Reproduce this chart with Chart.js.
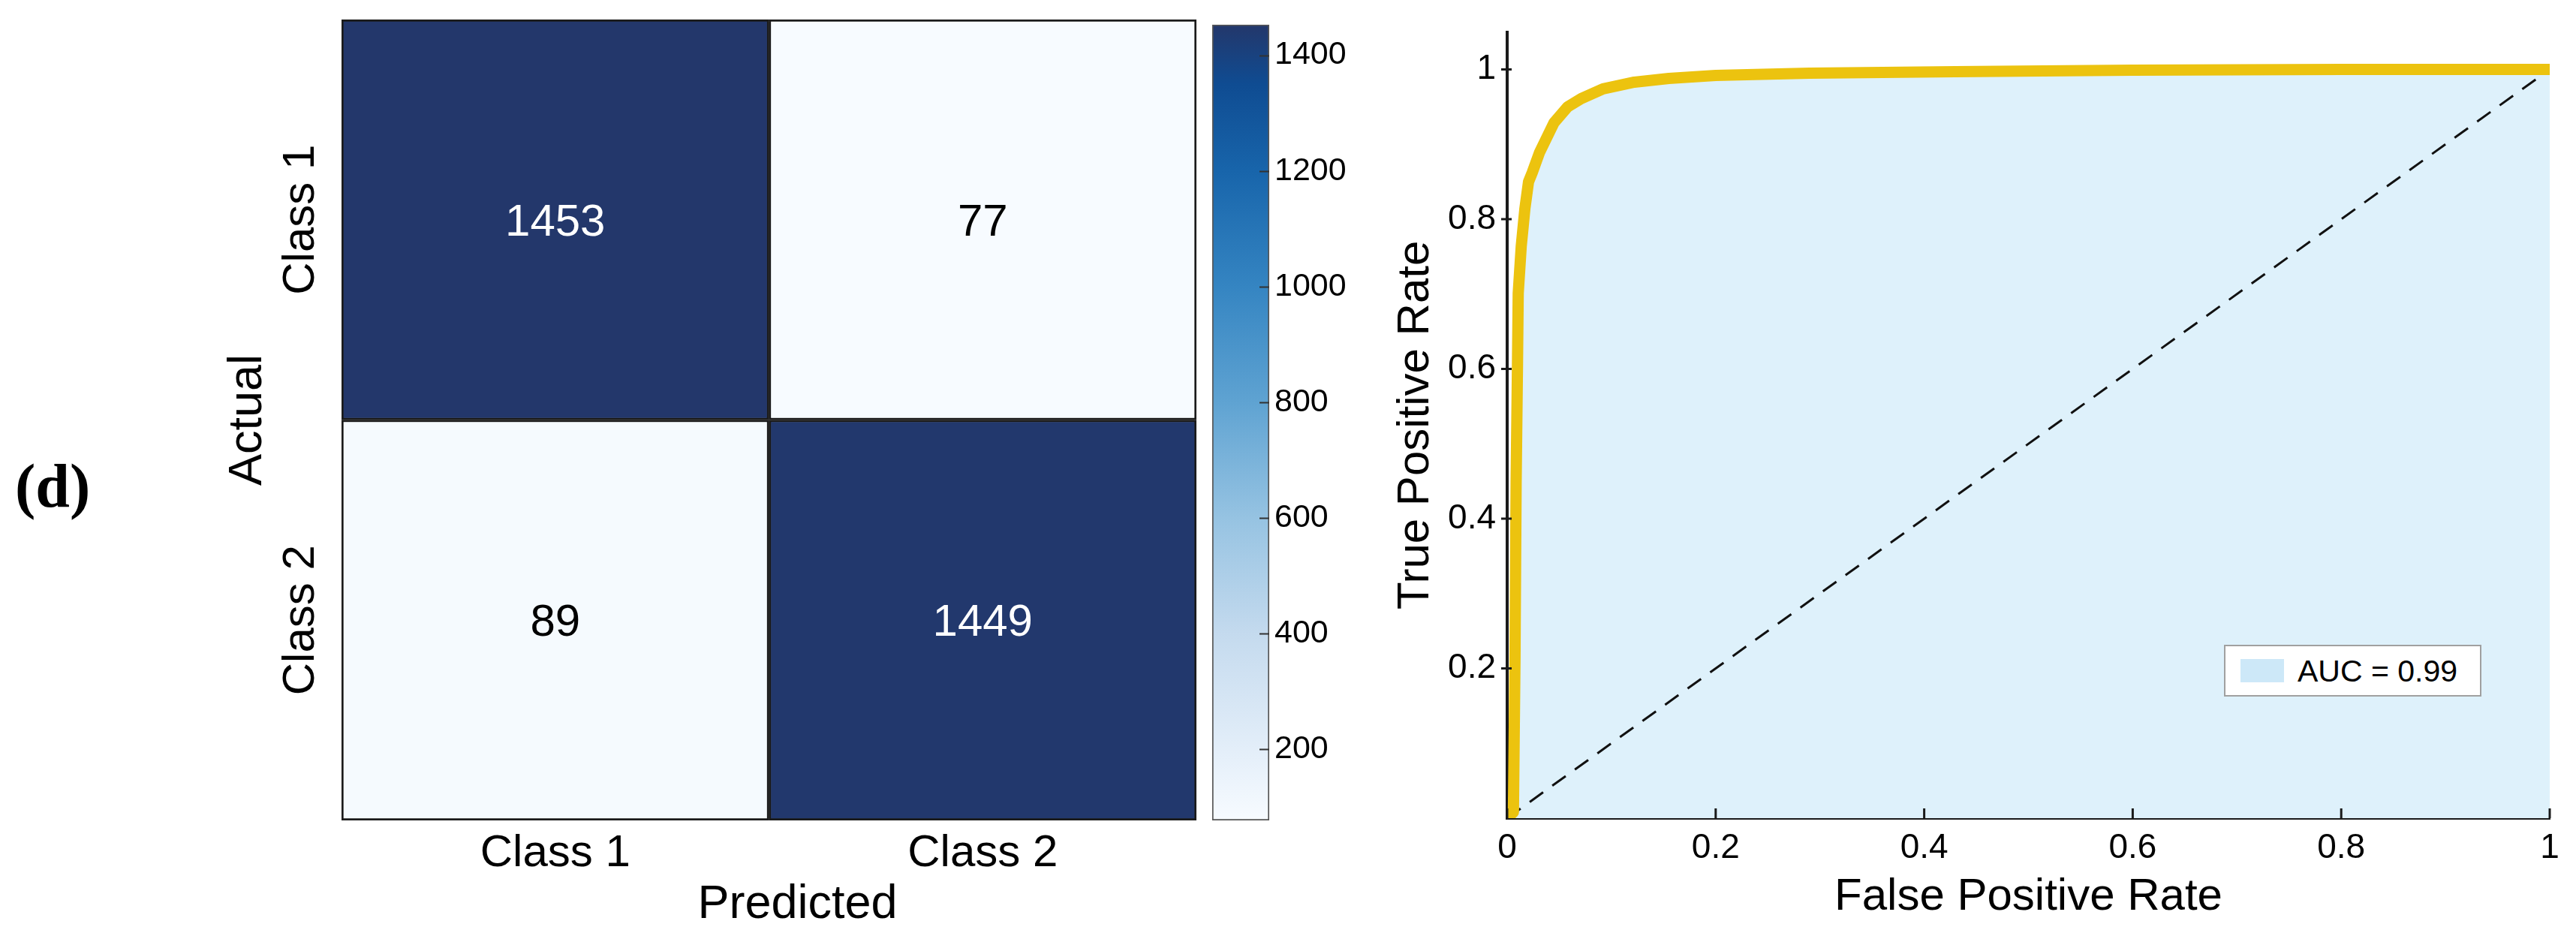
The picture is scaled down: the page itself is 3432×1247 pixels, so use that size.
<!DOCTYPE html>
<html>
<head>
<meta charset="utf-8">
<title>Confusion matrix and ROC</title>
<script src="https://cdn.jsdelivr.net/npm/chart.js@4.4.1/dist/chart.umd.min.js"></script>
<style>
  html, body { margin: 0; padding: 0; background: #fff; }
  body { position: relative; width: 3432px; height: 1247px; overflow: hidden;
         font-family: 'Liberation Sans', Arial, sans-serif; }
  .panel { position: absolute; top: 0; height: 1247px; }
  #matrixBox { left: 0; width: 1600px; }
  #barBox { left: 1600px; width: 260px; }
  #rocBox { left: 1720px; width: 1712px; }
  #panelLabel { position: absolute; left: 20px; top: 607px; font: bold 82px 'Liberation Serif', 'Times New Roman', serif;
                line-height: 82px; color: #000; }
  #rocLegend { position: absolute; left: 2963px; top: 859px; width: 343px; height: 69px; box-sizing: border-box;
               border: 2px solid #a0a0a0; background: #fff; }
  #rocLegend .swatch { position: absolute; left: 20px; top: 17px; width: 58px; height: 31px; background: #cde8f8; }
  #rocLegend .text { position: absolute; left: 96px; top: 13px; font-size: 41px; line-height: 41px; color: #000; white-space: nowrap; }
</style>
</head>
<body>
<div id="panelLabel">(d)</div>
<div class="panel" id="matrixBox"><canvas id="matrix"></canvas></div>
<div class="panel" id="barBox"><canvas id="colorbar"></canvas></div>
<div class="panel" id="rocBox"><canvas id="roc"></canvas></div>
<div id="rocLegend"><div class="swatch"></div><div class="text"></div></div>

<script>
// ---- confusion matrix (rows = actual, columns = predicted)
var classNames = ['Class 1', 'Class 2'];
var actualClass1 = [1453, 77];
var actualClass2 = [89, 1449];
var colorbarTicks = [200, 400, 600, 800, 1000, 1200, 1400];

// ---- ROC curve
var fpr = [0, 0.006, 0.0075, 0.0086, 0.0099, 0.0106, 0.0135, 0.017, 0.0205, 0.024, 0.031, 0.045,
           0.058, 0.071, 0.092, 0.122, 0.155, 0.2, 0.29, 0.43, 0.6, 0.8, 1];
var tpr = [0, 0.008, 0.213, 0.449, 0.607, 0.701, 0.764, 0.814, 0.85, 0.862, 0.889, 0.929,
           0.95, 0.961, 0.974, 0.983, 0.988, 0.992, 0.995, 0.997, 0.999, 1, 1];
var chanceX = [0, 1];
var chanceY = [0, 1];
var rocTicks = [0, 0.2, 0.4, 0.6, 0.8, 1];
var aucLabel = 'AUC = 0.99';

Chart.defaults.font.family = "'Liberation Sans', Arial, sans-serif";
Chart.defaults.color = '#000';
Chart.defaults.animation = false;

var matrixRows = [actualClass1, actualClass2];
var allCounts = actualClass1.concat(actualClass2);
var vMin = Math.min.apply(null, allCounts);
var vMax = Math.max.apply(null, allCounts);

// blue colormap, position along the colour range -> colour
var cmap = [
    [0.00, [247, 251, 255]],
    [0.09, [227, 238, 249]],
    [0.235, [196, 218, 238]],
    [0.38, [150, 195, 226]],
    [0.525, [95, 163, 210]],
    [0.67, [53, 133, 194]],
    [0.815, [24, 101, 171]],
    [0.925, [15, 76, 146]],
    [1.00, [35, 55, 107]]
];

function colorAt(v) {
    var t = (v - vMin) / (vMax - vMin);
    t = Math.max(0, Math.min(1, t));
    for (var i = 1; i < cmap.length; i++) {
        if (t <= cmap[i][0]) {
            var a = cmap[i - 1], b = cmap[i];
            var f = (t - a[0]) / (b[0] - a[0]);
            var c = a[1].map(function (x, k) { return Math.round(x + (b[1][k] - x) * f); });
            return 'rgb(' + c.join(',') + ')';
        }
    }
    return 'rgb(' + cmap[cmap.length - 1][1].join(',') + ')';
}

// ---------- confusion matrix ----------
var matrixText = {
    id: 'matrixText',
    afterDatasetsDraw: function (chart) {
        var ctx = chart.ctx;
        var yScale = chart.scales.y;
        ctx.save();
        chart.data.datasets.forEach(function (ds, r) {
            var meta = chart.getDatasetMeta(r);
            meta.data.forEach(function (bar, c) {
                var count = ds.data[c].count;
                var cy = (bar.y + bar.base) / 2;
                ctx.fillStyle = count > (vMin + vMax) / 2 ? '#fff' : '#000';
                ctx.font = "60px 'Liberation Sans', Arial, sans-serif";
                ctx.textAlign = 'center';
                ctx.textBaseline = 'alphabetic';
                ctx.fillText(String(count), bar.x, cy + 21);
            });
        });
        // rotated row labels
        ctx.fillStyle = '#000';
        ctx.font = "60px 'Liberation Sans', Arial, sans-serif";
        yScale.ticks.forEach(function (t, i) {
            var py = yScale.getPixelForValue(t.value);
            ctx.save();
            ctx.translate(chart.chartArea.left - 37, py);
            ctx.rotate(-Math.PI / 2);
            ctx.textAlign = 'center';
            ctx.textBaseline = 'alphabetic';
            ctx.fillText(classNames[i], 0, 0);
            ctx.restore();
        });
        // x title, centred under matrix + colour bar
        ctx.font = "63px 'Liberation Sans', Arial, sans-serif";
        ctx.textAlign = 'center';
        ctx.fillText('Predicted', (chart.chartArea.left + chart.chartArea.right) / 2 + 38, 1223);
        ctx.restore();
    }
};

new Chart(document.getElementById('matrix'), {
    type: 'bar',
    data: {
        labels: classNames,
        datasets: matrixRows.map(function (row, r) {
            return {
                label: 'Actual ' + classNames[r],
                data: row.map(function (v, c) { return {x: classNames[c], y: [r, r + 1], count: v}; }),
                backgroundColor: row.map(colorAt),
                borderColor: '#1b1b1b',
                borderWidth: 3,
                borderSkipped: false,
                barPercentage: 1,
                categoryPercentage: 1,
                grouped: false
            };
        })
    },
    options: {
        responsive: true,
        maintainAspectRatio: false,
        layout: {padding: {top: 26, right: 6, left: 0, bottom: 0}},
        plugins: {legend: {display: false}, tooltip: {enabled: false}},
        scales: {
            x: {
                type: 'category',
                grid: {display: false, drawTicks: false},
                border: {display: false},
                ticks: {font: {size: 60}, padding: 8, color: '#000'},
                afterFit: function (s) { s.height = 154; }
            },
            y: {
                type: 'linear',
                min: 0,
                max: 2,
                reverse: true,
                afterBuildTicks: function (s) { s.ticks = [{value: 0.5}, {value: 1.5}]; },
                ticks: {display: false},
                grid: {display: false, drawTicks: false},
                border: {display: false},
                title: {display: true, text: 'Actual', font: {size: 63}, color: '#000', padding: {top: 293, bottom: 0}},
                afterFit: function (s) { s.width = 455; }
            }
        }
    },
    plugins: [matrixText]
});

// ---------- colour bar ----------
var barTicks = {
    id: 'barTicks',
    afterDatasetsDraw: function (chart) {
        var ctx = chart.ctx, area = chart.chartArea, y = chart.scales.y;
        ctx.save();
        ctx.strokeStyle = '#333';
        ctx.lineWidth = 2;
        y.ticks.forEach(function (t) {
            var py = Math.round(y.getPixelForValue(t.value)) + 0.5;
            ctx.beginPath();
            ctx.moveTo(area.right - 13, py);
            ctx.lineTo(area.right, py);
            ctx.stroke();
        });
        ctx.restore();
    }
};

new Chart(document.getElementById('colorbar'), {
    type: 'bar',
    data: {
        labels: ['counts'],
        datasets: [{
            data: [[vMin, vMax]],
            backgroundColor: function (context) {
                var chart = context.chart, area = chart.chartArea;
                if (!area) return colorAt(vMax);
                var y = chart.scales.y;
                var g = chart.ctx.createLinearGradient(0, y.getPixelForValue(vMin), 0, y.getPixelForValue(vMax));
                cmap.forEach(function (s) { g.addColorStop(s[0], 'rgb(' + s[1].join(',') + ')'); });
                return g;
            },
            borderColor: '#555',
            borderWidth: 2,
            borderSkipped: false,
            barPercentage: 1,
            categoryPercentage: 1
        }]
    },
    options: {
        responsive: true,
        maintainAspectRatio: false,
        layout: {padding: {top: 26, left: 15, right: 0, bottom: 154}},
        plugins: {legend: {display: false}, tooltip: {enabled: false}},
        scales: {
            x: {display: false},
            y: {
                position: 'right',
                min: vMin,
                max: vMax,
                afterBuildTicks: function (s) { s.ticks = colorbarTicks.map(function (v) { return {value: v}; }); },
                ticks: {font: {size: 43}, padding: 7, color: '#000', callback: function (v) { return String(v); }},
                grid: {display: false, drawTicks: false},
                border: {display: false},
                afterFit: function (s) { s.width = 169; }
            }
        }
    },
    plugins: [barTicks]
});

// ---------- ROC ----------
var rocTickMarks = {
    id: 'rocTickMarks',
    afterDatasetsDraw: function (chart) {
        var ctx = chart.ctx, area = chart.chartArea, xs = chart.scales.x, ys = chart.scales.y;
        ctx.save();
        ctx.strokeStyle = '#1a1a1a';
        ctx.lineWidth = 3;
        xs.ticks.forEach(function (t) {
            var px = xs.getPixelForValue(t.value);
            ctx.beginPath();
            ctx.moveTo(px, area.bottom);
            ctx.lineTo(px, area.bottom - 13);
            ctx.stroke();
        });
        ys.ticks.forEach(function (t) {
            var py = ys.getPixelForValue(t.value);
            ctx.beginPath();
            ctx.moveTo(area.left - 8, py);
            ctx.lineTo(area.left + 6, py);
            ctx.stroke();
        });
        ctx.restore();
    }
};

new Chart(document.getElementById('roc'), {
    type: 'line',
    data: {
        datasets: [{
            label: aucLabel,
            data: fpr.map(function (x, i) { return {x: x, y: tpr[i]}; }),
            borderColor: '#ecc30f',
            backgroundColor: '#def1fb',
            borderWidth: 15,
            borderJoinStyle: 'round',
            borderCapStyle: 'round',
            fill: 'origin',
            pointRadius: 0,
            tension: 0
        }, {
            label: 'chance',
            data: chanceX.map(function (x, i) { return {x: x, y: chanceY[i]}; }),
            borderColor: '#111',
            borderWidth: 3,
            borderDash: [22, 15],
            fill: false,
            pointRadius: 0
        }]
    },
    options: {
        responsive: true,
        maintainAspectRatio: false,
        layout: {padding: {top: 30, right: 35, left: 0, bottom: 0}},
        plugins: {
            legend: {display: false},
            tooltip: {enabled: false},
            filler: {drawTime: 'beforeDatasetsDraw'}
        },
        scales: {
            x: {
                type: 'linear',
                min: 0,
                max: 1,
                afterBuildTicks: function (s) { s.ticks = rocTicks.map(function (v) { return {value: v}; }); },
                ticks: {font: {size: 46}, padding: 13, color: '#000', callback: function (v) { return String(v); }},
                grid: {display: false, drawTicks: false},
                border: {color: '#1a1a1a', width: 4},
                title: {display: true, text: 'False Positive Rate', font: {size: 60}, color: '#000', padding: {top: 0, bottom: 16}},
                afterFit: function (s) { s.height = 157; }
            },
            y: {
                type: 'linear',
                min: 0,
                max: 1.05,
                afterBuildTicks: function (s) {
                    s.ticks = rocTicks.filter(function (v) { return v > 0; }).map(function (v) { return {value: v}; });
                },
                ticks: {font: {size: 46}, padding: 15, color: '#000', callback: function (v) { return String(v); }},
                grid: {display: false, drawTicks: false},
                border: {color: '#1a1a1a', width: 4},
                title: {display: true, text: 'True Positive Rate', font: {size: 60}, color: '#000', padding: {top: 130, bottom: 0}},
                afterFit: function (s) { s.width = 288; }
            }
        }
    },
    plugins: [rocTickMarks]
});

document.querySelector('#rocLegend .text').textContent = aucLabel;
</script>
</body>
</html>
